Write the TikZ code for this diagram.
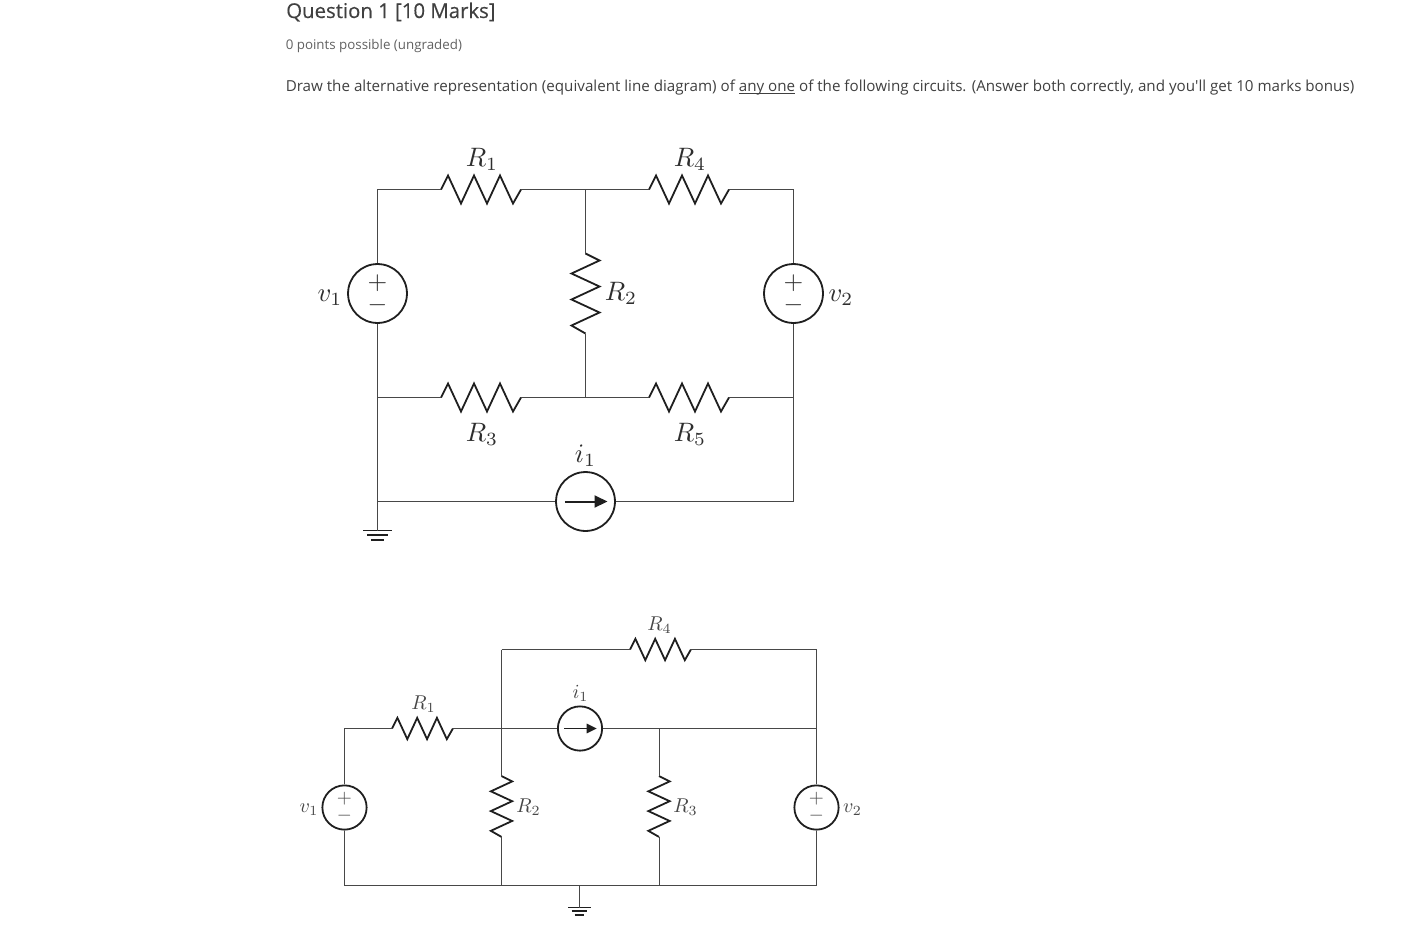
\documentclass[tikz,border=0pt]{standalone}
\usepackage[no-math]{fontspec}
\usetikzlibrary{arrows.meta}
\newfontfamily\uifont{Open Sans}
\newfontfamily\uititle[FakeBold=0.35]{Open Sans}
\newcommand{\mA}[1]{\scalebox{2}{$#1$}}
\newcommand{\mB}[1]{\scalebox{1.5}{$#1$}}
\newcommand{\mC}[1]{\scalebox{1.9}{$#1$}}
\newcommand{\mD}[1]{\scalebox{1.45}{$#1$}}
\tikzset{
  wire/.style={draw=black!72,line width=0.75pt},
  sym/.style={draw=black!88,line width=1.35pt,line join=miter},
  lab/.style={inner sep=0pt,text=black!82},
  labs/.style={inner sep=0pt,text=black!72},
  bigsrc/.style={circle,sym,minimum size=44.2pt,inner sep=0pt,fill=white},
  smallsrc/.style={circle,sym,minimum size=33.2pt,inner sep=0pt,fill=white},
  pm/.style={inner sep=0pt,text=black!80},
  pms/.style={inner sep=0pt,text=black!70},
  arr/.style={sym,line width=1.5pt,-{Triangle[length=9.75pt,width=9pt]}},
  arrs/.style={sym,-{Triangle[length=7.5pt,width=7pt]}},
  ui/.style={inner sep=0pt,anchor=base west},
  hres/.pic={
    \coordinate (-a) at (-40,0);
    \coordinate (-b) at (40,0);
    \draw[sym] (-a) -- (-33,-14) -- (-20,14) -- (-7,-14) -- (6,14) -- (19,-14) -- (32,14) -- (-b);
  },
  gnd/.pic={
    \coordinate (-t) at (0,0);
    \draw[sym] (-14.5,0) -- (14.5,0);
    \draw[sym] (-10.5,4.8) -- (10.5,4.8);
    \draw[sym] (-6.5,9.6) -- (6.5,9.6);
  }
}
\begin{document}
\begin{tikzpicture}[x=0.75pt,y=-0.75pt]
\useasboundingbox (0,0) rectangle (1412,943);
% page text
\node[ui,text=black!75,font=\uititle\fontsize{15.27}{19}\selectfont] (title) at (286,18) {Question 1 [10 Marks]};
\node[ui,text=black!62,font=\uifont\fontsize{10}{12}\selectfont] (pts) at (285.5,49) {0 points possible (ungraded)};
\node[ui,text=black!75,font=\uifont\fontsize{11.38}{14}\selectfont] (body) at (285.5,91) {Draw the alternative representation (equivalent line diagram) of \underline{\smash{any one}} of the following circuits. (Answer both correctly, and you'll get 10 marks bonus)};

\begin{scope}[shift={(-0.5,-0.5)}]
% ---- first circuit ----
\pic (Ra1) at (481.5,190) {hres};
\pic (Ra4) at (689.5,190) {hres};
\pic (Ra3) at (481.5,398) {hres};
\pic (Ra5) at (689.5,398) {hres};
\pic[rotate=-90] (Ra2) at (586,294) {hres};
\node[bigsrc] (va1) at (378,294) {};
\node[bigsrc] (va2) at (794,294) {};
\node[bigsrc] (ia1) at (586,502) {};
\pic (ga) at (378,531) {gnd};
\coordinate (jt) at (586,190);
\coordinate (jm) at (586,398);
\coordinate (jl) at (378,398);
\coordinate (jr) at (794,398);
\coordinate (jb) at (378,502);
\draw[wire] (va1.north) |- (Ra1-a);
\draw[wire] (Ra1-b) -- (jt) -- (Ra4-a);
\draw[wire] (Ra4-b) -| (va2.north);
\draw[wire] (jt) -- (Ra2-a);
\draw[wire] (Ra2-b) -- (jm);
\draw[wire] (va1.south) -- (ga-t);
\draw[wire] (jl) -- (Ra3-a);
\draw[wire] (Ra3-b) -- (jm) -- (Ra5-a);
\draw[wire] (Ra5-b) -- (jr);
\draw[wire] (va2.south) -- (jr);
\draw[wire] (jb) -- (ia1.west);
\draw[wire] (ia1.east) -| (jr);
\node[pm] (pa1) at (378,283.5) {\mC{+}};
\node[pm] (ma1) at (378,306) {\mC{-}};
\node[pm] (pa2) at (794,283.5) {\mC{+}};
\node[pm] (ma2) at (794,306) {\mC{-}};
\draw[arr] ([xshift=-15.5pt]ia1.center) -- ([xshift=16.5pt]ia1.center);
\node[lab] (lRa1) at (482.5,159.5) {\mA{R_1}};
\node[lab] (lRa4) at (690.5,159.5) {\mA{R_4}};
\node[lab] (lRa2) at (621.5,294) {\mA{R_2}};
\node[lab] (lRa3) at (482.5,434.5) {\mA{R_3}};
\node[lab] (lRa5) at (690.5,434.5) {\mA{R_5}};
\node[lab] (lia) at (586,456.5) {\mA{i_1}};
\node[lab] (lva1) at (330.5,298.5) {\mA{v_1}};
\node[lab] (lva2) at (841.5,298.5) {\mA{v_2}};

% ---- second circuit ----
\pic[scale=0.76] (Rb1) at (423,729) {hres};
\pic[scale=0.76] (Rb4) at (661,650) {hres};
\pic[scale=0.76,rotate=-90] (Rb2) at (502,807) {hres};
\pic[scale=0.76,rotate=-90] (Rb3) at (659.5,807) {hres};
\node[smallsrc] (vb1) at (345,808) {};
\node[smallsrc] (vb2) at (817,808) {};
\node[smallsrc] (ib1) at (580.5,729) {};
\pic[scale=0.76] (gb) at (580,908) {gnd};
\coordinate (kt) at (502,650);
\coordinate (km) at (502,729);
\coordinate (kn) at (659.5,729);
\coordinate (kr) at (817,729);
\coordinate (kb2) at (502,886);
\coordinate (kb3) at (659.5,886);
\coordinate (kg) at (580,886);
\draw[wire] (vb1.north) |- (Rb1-a);
\draw[wire] (Rb1-b) -- (km) -- (ib1.west);
\draw[wire] (ib1.east) -- (kn) -- (kr);
\draw[wire] (kt) -- (Rb4-a);
\draw[wire] (Rb4-b) -| (kr);
\draw[wire] (kr) -- (vb2.north);
\draw[wire] (kt) -- (km) -- (Rb2-a);
\draw[wire] (kn) -- (Rb3-a);
\draw[wire] (Rb2-b) -- (kb2);
\draw[wire] (Rb3-b) -- (kb3);
\draw[wire] (vb1.south) |- (kb2) -- (kb3) -| (vb2.south);
\draw[wire] (kg) -- (gb-t);
\node[pms] (pb1) at (345,799.5) {\mD{+}};
\node[pms] (mb1) at (345,816.5) {\mD{-}};
\node[pms] (pb2) at (817,799.5) {\mD{+}};
\node[pms] (mb2) at (817,816.5) {\mD{-}};
\draw[arrs] ([xshift=-12pt]ib1.center) -- ([xshift=12.5pt]ib1.center);
\node[labs] (lRb1) at (424,705) {\mB{R_1}};
\node[labs] (lRb4) at (660,626) {\mB{R_4}};
\node[labs] (lRb2) at (529,808) {\mB{R_2}};
\node[labs] (lRb3) at (686,808) {\mB{R_3}};
\node[labs] (lib) at (581,694) {\mB{i_1}};
\node[labs] (lvb1) at (309.5,810) {\mB{v_1}};
\node[labs] (lvb2) at (853,810) {\mB{v_2}};
\end{scope}
\end{tikzpicture}
\end{document}
